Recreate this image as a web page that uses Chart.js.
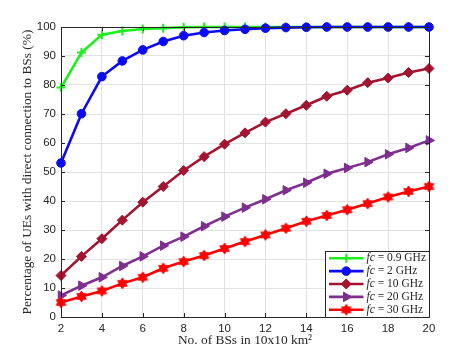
<!DOCTYPE html>
<html>
<head>
<meta charset="utf-8">
<script src="https://cdn.jsdelivr.net/npm/chart.js@4/dist/chart.umd.min.js"></script>
<style>
html,body{margin:0;padding:0;background:#fff;}
#wrap{width:474px;height:355px;position:relative;}
</style>
</head>
<body>
<div id="wrap"><canvas id="c" width="474" height="355"></canvas></div>
<script>
const numBSs = [2,3,4,5,6,7,8,9,10,11,12,13,14,15,16,17,18,19,20];
const fc09 = [79.1,91.2,97.3,98.6,99.3,99.6,99.9,100,100,100,100,100,100,100,100,100,100,100,100];
const fc2  = [53.1,70.1,82.9,88.3,92.1,95.0,97.0,98.1,98.8,99.2,99.6,99.8,99.9,100,100,100,100,100,100];
const fc10 = [14.3,20.9,27.0,33.4,39.6,45.0,50.5,55.3,59.6,63.5,67.2,70.1,73.0,76.1,78.2,80.8,82.4,84.3,85.7];
const fc20 = [7.4,10.8,13.7,17.6,20.9,24.6,27.7,31.3,34.6,37.7,40.6,43.7,46.3,49.4,51.4,53.4,56.1,58.3,60.9];
const fc30 = [5.0,7.1,9.0,11.6,13.7,16.8,19.1,21.2,23.6,26.0,28.3,30.6,33.0,35.0,37.0,39.1,41.4,43.3,45.0];
const seriesLabels = ['0.9 GHz','2 GHz','10 GHz','20 GHz','30 GHz'];
const xTitle = 'No. of BSs in 10x10 km\u00B2';
const yTitle = 'Percentage of UEs with direct connection to BSs (%)';

// filled hexagram marker
function makeHexagram(color, r){
  const s = Math.ceil(r*2+2);
  const cv = document.createElement('canvas');
  cv.width = s; cv.height = s;
  const g = cv.getContext('2d');
  const cx = s/2, cy = s/2;
  g.fillStyle = color; g.strokeStyle = color; g.lineWidth = 1;
  [[-90,30,150],[90,210,330]].forEach(a=>{
    g.beginPath();
    a.forEach((d,i)=>{const t=d*Math.PI/180;const px=cx+r*Math.cos(t),py=cy+r*Math.sin(t);i?g.lineTo(px,py):g.moveTo(px,py);});
    g.closePath(); g.fill(); g.stroke();
  });
  return cv;
}
const hexStar = makeHexagram('#FF0000', 5.5);

function pts(arr){ return arr.map((v,i)=>({x:numBSs[i], y:v})); }

const styles = [
  {color:'#1BF01B', style:'cross', radius:4.5, rot:0, bw:2},
  {color:'#0A0AF5', style:'circle', radius:4.3, rot:0, bw:1},
  {color:'#A2142F', style:'rectRot', radius:5, rot:0, bw:1},
  {color:'#7E2F8E', style:'triangle', radius:5.5, rot:90, bw:1},
  {color:'#FF0000', style:hexStar, radius:5.5, rot:0, bw:1}
];
const seriesData = [fc09, fc2, fc10, fc20, fc30];

const datasets = seriesData.map((d,i)=>({
  label: 'fc = ' + seriesLabels[i],
  data: pts(d),
  borderColor: styles[i].color,
  backgroundColor: styles[i].color,
  borderWidth: 2.6,
  pointStyle: styles[i].style,
  pointRadius: styles[i].radius,
  pointRotation: styles[i].rot,
  pointBorderWidth: styles[i].bw,
  pointBackgroundColor: styles[i].color,
  pointBorderColor: styles[i].color,
  tension: 0,
  clip: false,
  order: 4 - i
}));

const boxPlugin = {
  id:'boxPlugin',
  afterDatasetsDraw(chart){
    const {ctx, chartArea:a, scales} = chart;
    ctx.save();
    ctx.strokeStyle = '#262626';
    ctx.lineWidth = 1;
    const tl = 4;
    scales.y.ticks.forEach(t=>{
      const y = Math.round(scales.y.getPixelForValue(t.value))+0.5;
      ctx.beginPath();
      ctx.moveTo(a.left, y); ctx.lineTo(a.left+tl, y);
      ctx.moveTo(a.right, y); ctx.lineTo(a.right-tl, y);
      ctx.stroke();
    });
    scales.x.ticks.forEach(t=>{
      const x = Math.round(scales.x.getPixelForValue(t.value))+0.5;
      ctx.beginPath();
      ctx.moveTo(x, a.bottom); ctx.lineTo(x, a.bottom-tl);
      ctx.moveTo(x, a.top); ctx.lineTo(x, a.top+tl);
      ctx.stroke();
    });
    ctx.beginPath();
    ctx.rect(Math.round(a.left)+0.5, Math.round(a.top)+0.5, Math.round(a.right-a.left), Math.round(a.bottom-a.top));
    ctx.stroke();

    // legend (inside, bottom-right)
    const w = 104, h = 66;
    const lx = Math.round(a.right) - w + 0.5, ly = Math.round(a.bottom) - h + 0.5;
    ctx.fillStyle = '#ffffff';
    ctx.fillRect(lx, ly, w, h);
    ctx.strokeStyle = '#262626';
    ctx.strokeRect(lx, ly, w, h);
    const rowH = 12.9;
    chart.data.datasets.forEach((ds,i)=>{
      const cy = ly + 6.7 + i*rowH;
      const x0 = lx + 3.5, x1 = lx + 38;
      ctx.strokeStyle = ds.borderColor;
      ctx.lineWidth = ds.borderWidth;
      ctx.beginPath(); ctx.moveTo(x0, cy); ctx.lineTo(x1, cy); ctx.stroke();
      ctx.fillStyle = ds.pointBackgroundColor;
      ctx.strokeStyle = ds.pointBorderColor;
      ctx.lineWidth = ds.pointBorderWidth;
      Chart.helpers.drawPoint(ctx, {pointStyle: ds.pointStyle, radius: ds.pointRadius, rotation: ds.pointRotation, borderWidth: ds.pointBorderWidth}, (x0+x1)/2, cy);
      ctx.fillStyle = '#262626';
      ctx.textBaseline = 'middle';
      ctx.textAlign = 'left';
      ctx.font = 'italic 11.5px "Liberation Serif", serif';
      const tx = lx + 41;
      ctx.fillText('fc', tx, cy);
      const fw = ctx.measureText('fc').width;
      ctx.font = '11.5px "Liberation Serif", serif';
      ctx.fillText(' = ' + seriesLabels[i], tx + fw, cy);
    });
    ctx.restore();
  }
};

new Chart(document.getElementById('c'), {
  type: 'line',
  data: { datasets },
  options: {
    responsive: false,
    animation: false,
    events: [],
    layout: { padding: { left: 8, top: 27, right: 45, bottom: 4 } },
    plugins: { legend: { display: false }, tooltip: { enabled: false } },
    scales: {
      x: {
        type: 'linear', min: 2, max: 20,
        ticks: { stepSize: 2, color: '#262626', font: { family: '"Liberation Sans", Arial, sans-serif', size: 11.5 }, padding: 5, maxRotation: 0 },
        grid: { color: '#e2e2e2', lineWidth: 1, drawTicks: false },
        border: { display: true, color: '#262626' },
        title: { display: true, text: xTitle, color: '#262626', font: { family: '"Liberation Serif", serif', size: 13.4 }, padding: { top: 0, bottom: 2 } },
        afterFit(s){ s.height = 34; }
      },
      y: {
        type: 'linear', min: 0, max: 100,
        ticks: { stepSize: 10, color: '#262626', font: { family: '"Liberation Sans", Arial, sans-serif', size: 11.5 }, padding: 5 },
        grid: { color: '#e2e2e2', lineWidth: 1, drawTicks: false },
        border: { display: true, color: '#262626' },
        title: { display: true, text: yTitle, color: '#262626', font: { family: '"Liberation Serif", serif', size: 13.4 }, padding: { top: 11, bottom: 0 } },
        afterFit(s){ s.width = 53; }
      }
    }
  },
  plugins: [boxPlugin]
});
</script>
</body>
</html>
